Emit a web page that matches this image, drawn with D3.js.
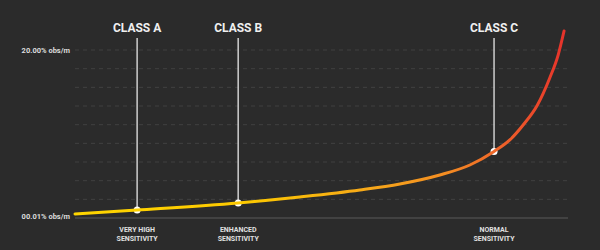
<!DOCTYPE html>
<html>
<head>
<meta charset="utf-8">
<script src="https://cdn.jsdelivr.net/npm/d3@7"></script>
<style>
  html, body { margin: 0; padding: 0; background: #2b2b2b; }
  svg { display: block; }
  text { font-family: Roboto, "Open Sans", sans-serif; }
</style>
</head>
<body>
<svg id="vis-svg" width="600" height="250"></svg>
<script>
// sensitivity position (0-100) vs observation rate (% obs/m)
const sensitivity = [0, 12.6, 33.1, 45.6, 57.8, 65.9, 74.0, 80.1, 85.0, 88.2, 90.9, 93.8, 96.3, 98.0, 99.2]
const obsRate = [0.48, 0.95, 1.79, 2.5, 3.33, 4.05, 5.12, 6.31, 7.92, 9.29, 11.07, 13.45, 16.67, 19.4, 22.26]

const classNames = ["CLASS A", "CLASS B", "CLASS C"]
const classPos = [12.6, 33.1, 85]
const classRate = [0.95, 1.79, 7.92]
const classDesc = [["VERY HIGH", "SENSITIVITY"], ["ENHANCED", "SENSITIVITY"], ["NORMAL", "SENSITIVITY"]]

const yTicks = [0, 20]
const yTickLabels = ["00.01% obs/m", "20.00% obs/m"]

const svg = d3.select("#vis-svg")

const x = d3.scaleLinear().domain([0, 100]).range([75, 568])
const y = d3.scaleLinear().domain([0, 20]).range([218, 50])

// dashed grid
const gridVals = d3.range(1, 10).map(i => i * 20 / 9)
svg.append("g")
  .selectAll("line")
  .data(gridVals)
  .join("line")
    .attr("x1", x(0))
    .attr("x2", x(100))
    .attr("y1", d => y(d))
    .attr("y2", d => y(d))
    .attr("stroke", "#414141")
    .attr("stroke-width", 1)
    .attr("stroke-dasharray", "4,4")

// baseline
svg.append("line")
  .attr("x1", x(0)).attr("x2", x(100))
  .attr("y1", y(0)).attr("y2", y(0))
  .attr("stroke", "#5a5a5a")
  .attr("stroke-width", 1.2)

// y labels
svg.append("g")
  .selectAll("text")
  .data(yTicks)
  .join("text")
    .attr("x", 70)
    .attr("y", (d, i) => i === 0 ? y(d) - 2 : y(d))
    .attr("dy", "0.35em")
    .attr("text-anchor", "end")
    .attr("fill", "#dcdcdc")
    .attr("font-size", 7.5)
    .attr("font-weight", 700)
    .text((d, i) => yTickLabels[i])

// gradient for the curve
const grad = svg.append("defs").append("linearGradient")
  .attr("id", "curve-grad")
  .attr("gradientUnits", "userSpaceOnUse")
  .attr("x1", x(0)).attr("x2", x(100))
  .attr("y1", 0).attr("y2", 0)
grad.selectAll("stop")
  .data([
    { o: "0%", c: "#ffd600" },
    { o: "35%", c: "#fcc800" },
    { o: "60%", c: "#f7a81a" },
    { o: "75%", c: "#f38d22" },
    { o: "86%", c: "#ef6429" },
    { o: "100%", c: "#e5302b" }
  ])
  .join("stop")
    .attr("offset", d => d.o)
    .attr("stop-color", d => d.c)

// class markers
const markers = svg.append("g")
  .selectAll("g")
  .data(classNames)
  .join("g")

markers.append("line")
  .attr("x1", (d, i) => x(classPos[i]))
  .attr("x2", (d, i) => x(classPos[i]))
  .attr("y1", 38)
  .attr("y2", (d, i) => y(classRate[i]))
  .attr("stroke", "#cfcfcf")
  .attr("stroke-width", 1.5)

markers.append("text")
  .attr("x", (d, i) => x(classPos[i]))
  .attr("y", 32)
  .attr("text-anchor", "middle")
  .attr("fill", "#f0f0f0")
  .attr("font-size", 12)
  .attr("font-weight", 700)
  .text(d => d)

markers.append("text")
  .attr("x", (d, i) => x(classPos[i]))
  .attr("y", 232)
  .attr("text-anchor", "middle")
  .attr("fill", "#e0e0e0")
  .attr("font-size", 7)
  .attr("font-weight", 700)
  .selectAll("tspan")
  .data((d, i) => classDesc[i].map(t => ({ t, i })))
  .join("tspan")
    .attr("x", d => x(classPos[d.i]))
    .attr("dy", (d, j) => j === 0 ? 0 : 9)
    .text(d => d.t)

// curve
const line = d3.line()
  .x(d => x(d[0]))
  .y(d => y(d[1]))
  .curve(d3.curveMonotoneX)

svg.append("path")
  .datum(d3.zip(sensitivity, obsRate))
  .attr("d", line)
  .attr("fill", "none")
  .attr("stroke", "url(#curve-grad)")
  .attr("stroke-width", 3)
  .attr("stroke-linecap", "round")

// dots on curve
markers.append("circle")
  .attr("cx", (d, i) => x(classPos[i]))
  .attr("cy", (d, i) => y(classRate[i]))
  .attr("r", 3.5)
  .attr("fill", "#ffffff")
</script>
</body>
</html>
